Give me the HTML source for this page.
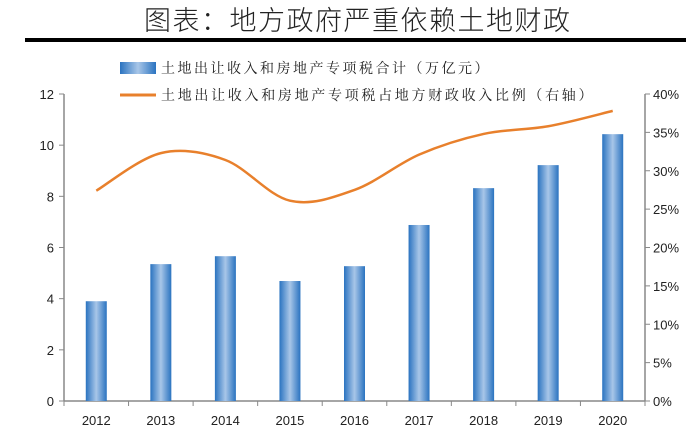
<!DOCTYPE html>
<html><head><meta charset="utf-8"><style>
body{margin:0;background:#fff;width:700px;height:436px;overflow:hidden;font-family:"Liberation Sans","Noto Sans CJK SC",sans-serif}
</style></head><body>
<svg width="700" height="436">
<defs><linearGradient id="bg" x1="0" x2="1"><stop offset="0" stop-color="#2a73c0"/><stop offset="0.5" stop-color="#a8c6e8"/><stop offset="1" stop-color="#2a73c0"/></linearGradient></defs>
<text x="144" y="30" font-size="27" letter-spacing="1.5" font-family="'Noto Sans CJK SC',sans-serif" font-weight="300" fill="#222">图表：地方政府严重依赖土地财政</text>
<rect x="25" y="38" width="661" height="4" fill="#000"/>
<g>
<rect x="120" y="62" width="36" height="12" fill="url(#bg)"/>
<text x="161" y="73" font-size="14" letter-spacing="2.5" fill="#222" font-family="'Noto Serif CJK SC',serif">土地出让收入和房地产专项税合计（万亿元）</text>
<line x1="120" y1="95" x2="156" y2="95" stroke="#e8802c" stroke-width="3"/>
<text x="161" y="100" font-size="14" letter-spacing="2.7" fill="#222" font-family="'Noto Serif CJK SC',serif">土地出让收入和房地产专项税占地方财政收入比例（右轴）</text>
</g>
<g id="plot"></g>
</svg>
<script>
const categories=["2012","2013","2014","2015","2016","2017","2018","2019","2020"];
const barValues=[3.9,5.35,5.66,4.69,5.27,6.88,8.32,9.22,10.43];
const ratioValues=[27.4,32.3,31.4,26.1,27.5,32.1,34.8,35.8,37.8];
const leftTicks=[0,2,4,6,8,10,12];
const rightTicks=[0,5,10,15,20,25,30,35,40];
const X0=64,X1=645,Y0=401,Y1=94;
const step=(X1-X0)/categories.length;
const xc=i=>X0+step*(i+0.5);
const yL=v=>Y0-(v/12)*(Y0-Y1);
const yR=v=>Y0-(v/40)*(Y0-Y1);
const ns="http://www.w3.org/2000/svg";
const g=document.getElementById('plot');
function mk(t,a){const e=document.createElementNS(ns,t);for(const k in a)e.setAttribute(k,a[k]);g.appendChild(e);return e;}
let e;
e=mk('line',{x1:X0,y1:Y1,x2:X0,y2:Y0,stroke:'#888','stroke-width':1.5});

e=mk('line',{x1:X1,y1:Y1,x2:X1,y2:Y0,stroke:'#888','stroke-width':1.5});

e=mk('line',{x1:X0,y1:Y0,x2:X1,y2:Y0,stroke:'#888','stroke-width':1.5});

leftTicks.forEach(v=>{const y=yL(v);mk('line',{x1:X0-5,y1:y,x2:X0,y2:y,stroke:'#888'});
e=mk('text',{x:X0-10,y:y+5,'text-anchor':'end','font-size':13,fill:'#222'});e.textContent=v;
});
rightTicks.forEach(v=>{const y=yR(v);mk('line',{x1:X1,y1:y,x2:X1+5,y2:y,stroke:'#888'});
e=mk('text',{x:X1+8,y:y+5,'font-size':13,fill:'#222'});e.textContent=v+'%';
});
for(let i=0;i<=categories.length;i++){const x=X0+step*i;mk('line',{x1:x,y1:Y0,x2:x,y2:Y0+5,stroke:'#888'});}
categories.forEach((c,i)=>{
e=mk('rect',{x:xc(i)-10.5,y:yL(barValues[i]),width:21,height:Y0-yL(barValues[i]),fill:'url(#bg)'});

e=mk('text',{x:xc(i),y:425,'text-anchor':'middle','font-size':13,fill:'#222'});e.textContent=c;
});
const pts=ratioValues.map((v,i)=>[xc(i),yR(v)]);
let d='M'+pts[0][0]+','+pts[0][1];
for(let i=0;i<pts.length-1;i++){const p0=pts[i-1]||pts[i],p1=pts[i],p2=pts[i+1],p3=pts[i+2]||p2;
d+=` C${p1[0]+(p2[0]-p0[0])/6},${p1[1]+(p2[1]-p0[1])/6} ${p2[0]-(p3[0]-p1[0])/6},${p2[1]-(p3[1]-p1[1])/6} ${p2[0]},${p2[1]}`;}
e=mk('path',{d:d,fill:'none',stroke:'#e8802c','stroke-width':2.5});

</script>
</body></html>
